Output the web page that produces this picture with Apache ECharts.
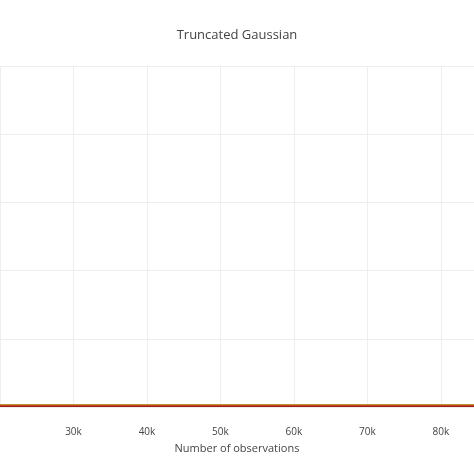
<!DOCTYPE html><html><head><meta charset="utf-8"><script src="https://cdn.jsdelivr.net/npm/echarts@6/dist/echarts.min.js"></script></head><body style="margin:0"><div id="c" style="width:474px;height:474px"></div><script>
const xs=[20000,30000,40000,50000,60000,70000,80000,85000];
const s1=[0.03,0.03,0.03,0.03,0.03,0.03,0.03,0.03];
const s2=[0.02,0.02,0.02,0.02,0.02,0.02,0.02,0.02];
const s3=[0.01,0.01,0.01,0.01,0.01,0.01,0.01,0.01];
const xTicks=['30k','40k','50k','60k','70k','80k'];
const mk=(d,c,w)=>({type:'line',data:xs.map((x,i)=>[x,d[i]]),showSymbol:false,lineStyle:{color:c,width:w},silent:true});
echarts.init(document.getElementById('c')).setOption({
title:{text:'Truncated Gaussian',left:'center',top:24,textStyle:{fontFamily:'Open Sans',fontWeight:'normal',fontSize:13,color:'#444'}},
grid:{left:-31,right:0,top:66,bottom:67},
xAxis:{type:'value',min:20000,max:84500,interval:10000,name:'Number of observations',nameLocation:'middle',nameGap:36,nameTextStyle:{fontFamily:'Open Sans',fontSize:11,color:'#444'},
axisLine:{show:false},axisTick:{show:false},splitLine:{lineStyle:{color:'#eee'}},
axisLabel:{fontFamily:'Open Sans',fontSize:10,color:'#444',margin:20,showMinLabel:false,showMaxLabel:false,formatter:v=>(v/1000)+'k'}},
yAxis:{type:'value',min:0,max:5,interval:1,axisLabel:{show:false},axisLine:{show:false},axisTick:{show:false},splitLine:{lineStyle:{color:'#eee'}}},
series:[mk(s1,'#b5a642',2),mk(s2,'#e0601f',2),mk(s3,'#a0201a',1.5)]
});
</script></body></html>
